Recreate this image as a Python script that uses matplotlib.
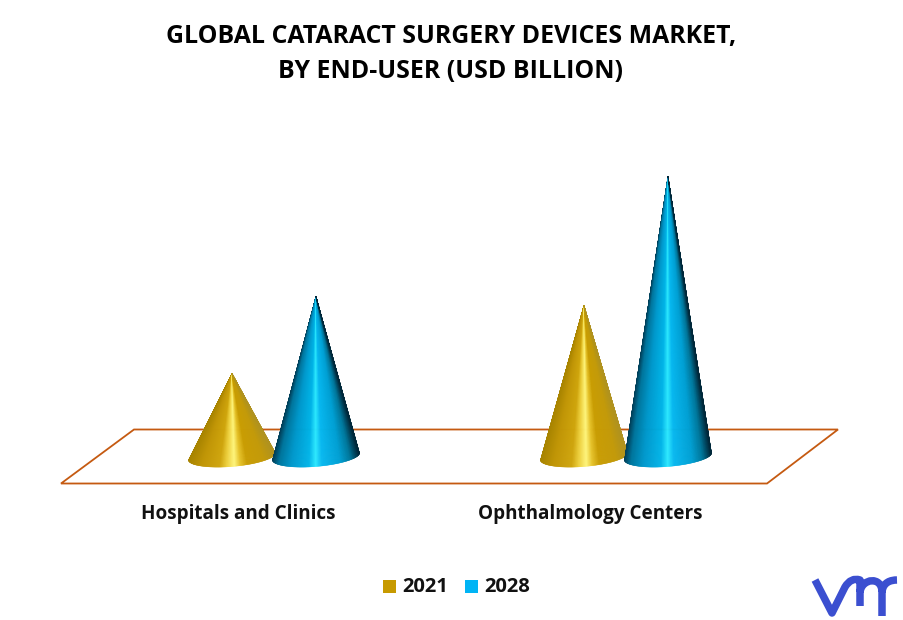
import numpy as np
import matplotlib
matplotlib.use("Agg")
import matplotlib.pyplot as plt
from matplotlib.collections import PolyCollection
from matplotlib.colors import LinearSegmentedColormap
from matplotlib.patches import Polygon, Rectangle
from matplotlib.path import Path
from matplotlib.patches import PathPatch

plt.rcParams['font.family'] = ['Open Sans', 'DejaVu Sans']

# values (no axis in the original, so units are estimates)
categories = ["Hospitals and Clinics", "Ophthalmology Centers"]
years = ["2021", "2028"]
values_2021 = [1.66, 3.02]
values_2028 = [3.20, 5.60]

solid = {"2021": "#c79a00", "2028": "#00b4f5"}
shades = {
    "2021": [(0.0, "#a88400"), (0.15, "#c09506"), (0.36, "#cfa50c"), (0.44, "#ecce3a"),
             (0.53, "#fff57a"), (0.60, "#e6c228"), (0.68, "#c99d02"), (0.88, "#c39a0a"), (1.0, "#b09220")],
    "2028": [(0.0, "#003f58"), (0.07, "#00759c"), (0.22, "#0098cc"), (0.42, "#00b4e8"),
             (0.50, "#2ae8ff"), (0.57, "#06b8f0"), (0.78, "#00a0d4"), (0.90, "#00789c"), (1.0, "#00283a")],
}

# pixel scale of the plot area
PX_PER_UNIT = 50
GROUP_PX = 352
BASE_X = 274
BASE_Y = 456.5
OFFSET = 42
HALF_W = 43.5
HALF_H = 10
TILT = 3.5


def draw_cone(ax, x, height, year):
    # fan of thin triangles from the tip to the front edge of the base ellipse
    cmap = LinearSegmentedColormap.from_list(year, shades[year])
    u = np.linspace(0, 1, 241)
    cosu = -np.cos(np.pi * u)
    ex = x + cosu * HALF_W
    # the base is tipped a little: left corner lower than the right one
    ey = BASE_Y + np.sin(np.pi * u) * HALF_H - cosu * TILT
    tip = (x, BASE_Y - height * PX_PER_UNIT)
    tris = [[tip, (ex[i], ey[i]), (ex[i + 1], ey[i + 1])] for i in range(len(u) - 1)]
    # linear in screen x, like the lit cone in the original
    cols = cmap((ex[:-1] + ex[1:]) / 2 / (2 * HALF_W) - (x - HALF_W) / (2 * HALF_W))
    ax.add_collection(PolyCollection(tris, facecolors=cols, edgecolors=cols, linewidths=0.3, zorder=3))


fig = plt.figure(figsize=(9.04, 6.2), dpi=100)
ax = fig.add_axes([0, 0, 1, 1])
ax.set_xlim(0, 904)
ax.set_ylim(620, 0)
ax.axis("off")

# floor
ax.add_patch(Polygon([(61, 483.5), (767, 483.5), (838, 429.5), (134, 429.5)], closed=True,
                     fill=False, edgecolor="#c55a11", linewidth=1.3, zorder=1))

for i, cat in enumerate(categories):
    cx = BASE_X + i * GROUP_PX
    draw_cone(ax, cx - OFFSET, values_2021[i], "2021")
    draw_cone(ax, cx + OFFSET, values_2028[i], "2028")
    ax.text(cx - 35.5, 513.5, cat, ha="center", va="center", fontsize=13.6, fontweight="bold", color="#111111")

ax.text(451, 37, "GLOBAL CATARACT SURGERY DEVICES MARKET,", ha="center", va="center",
        fontsize=17.9, fontweight="bold", color="black")
ax.text(451, 72, "BY END-USER (USD BILLION)", ha="center", va="center",
        fontsize=17.9, fontweight="bold", color="black")

# legend
for year, sx, tx in zip(years, [383, 465], [402, 484]):
    ax.add_patch(Rectangle((sx, 580), 13, 13, facecolor=solid[year], edgecolor="none"))
    ax.text(tx, 587, year, ha="left", va="center", fontsize=14.5, fontweight="bold", color="#111111")

# logo
logo = Path(
    [(815, 580), (832, 613), (845, 587), (851, 577), (860, 580), (860, 592), (860, 606),
     (860, 592), (862, 578), (882, 576), (882, 592), (882, 616),
     (882, 592), (883, 582), (891, 580), (897, 580)],
    [Path.MOVETO, Path.LINETO, Path.LINETO, Path.CURVE3, Path.CURVE3, Path.LINETO, Path.LINETO,
     Path.MOVETO, Path.CURVE4, Path.CURVE4, Path.CURVE4, Path.LINETO,
     Path.MOVETO, Path.CURVE4, Path.CURVE4, Path.CURVE4],
)
ax.add_patch(PathPatch(logo, fill=False, edgecolor="#3b4fd0", linewidth=5.4, capstyle="butt", joinstyle="round"))

fig.savefig("out.png", dpi=100)
